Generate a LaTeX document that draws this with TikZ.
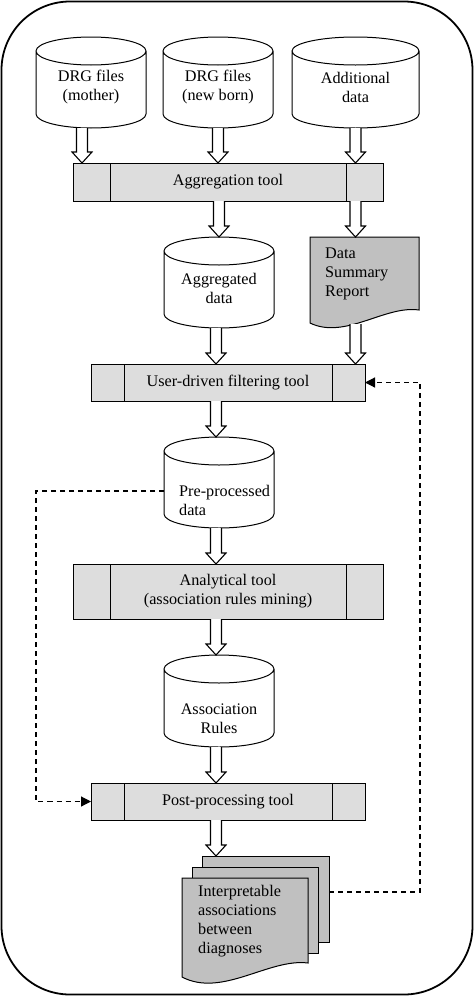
\documentclass[tikz,border=0pt]{standalone}
\usepackage{fontspec}
\setmainfont{Liberation Serif}
\usetikzlibrary{calc,arrows.meta}
\definecolor{barfill}{RGB}{221,221,221}
\definecolor{docfill}{RGB}{192,192,192}
\tikzset{
 lbl/.style={font=\fontsize{16.2}{19}\selectfont, inner sep=0pt, align=center},
 lbll/.style={font=\fontsize{16.2}{19}\selectfont, inner sep=0pt, align=left, anchor=west},
 box/.style={draw=black, line width=1pt, fill=barfill, inner sep=0pt, outer sep=0pt, font=\fontsize{16.2}{19}\selectfont, align=center},
 area/.style={inner sep=0pt, outer sep=0pt},
 cylline/.style={draw=black, line width=1pt, fill=white},
 docline/.style={draw=black, line width=1pt, fill=docfill},
 harrow/.style={draw=black, fill=white, line width=1.1pt, line join=miter,
   to path={let \p1=(\tikztostart), \p2=(\tikztotarget) in
     (\x1-5.5pt,\y1) -- (\x1-5.5pt,\y2+11pt) -- (\x1-10pt,\y2+11pt) -- (\x1,\y2)
     -- (\x1+10pt,\y2+11pt) -- (\x1+5.5pt,\y2+11pt) -- (\x1+5.5pt,\y1)}},
 fb/.style={draw=black, line width=1.2pt, dash pattern=on 5pt off 4pt, -{Triangle[length=10pt,width=10pt]}},
 frame/.style={draw=black, line width=1.8pt}
}
\newcommand\drawcyl[2]{%
 \draw[cylline] ([yshift=-14pt]#1.north west) -- ([yshift=14pt]#1.south west)
   arc[start angle=180,end angle=360,x radius=#2pt,y radius=14pt]
   -- ([yshift=-14pt]#1.north east)
   arc[start angle=0,end angle=180,x radius=#2pt,y radius=14pt]
   arc[start angle=180,end angle=360,x radius=#2pt,y radius=14pt];}
\newcommand\barlines[2]{%
 \draw[line width=1pt] ([xshift=#2pt]#1.north west) -- ([xshift=#2pt]#1.south west);
 \draw[line width=1pt] ([xshift=-#2pt]#1.north east) -- ([xshift=-#2pt]#1.south east);}
\begin{document}
\begin{tikzpicture}[x=1pt,y=1pt]
\useasboundingbox (0,0) rectangle (474,-996);
% outer frame
\draw[frame] (70,-1.5) -- (404,-1.5) arc[start angle=90,end angle=0,radius=68.5pt]
  -- (472.5,-926) arc[start angle=0,end angle=-90,radius=68.5pt]
  -- (70,-994.5) arc[start angle=270,end angle=180,radius=68.5pt]
  -- (1.5,-70) arc[start angle=180,end angle=90,radius=68.5pt] -- cycle;

% source cylinders
\node[area, minimum width=110pt, minimum height=91pt] (c1) at (91,-82.5) {};
\node[area, minimum width=110pt, minimum height=91pt] (c2) at (218,-82.5) {};
\node[area, minimum width=127pt, minimum height=91pt] (c3) at (355.5,-82.5) {};
\drawcyl{c1}{55}
\drawcyl{c2}{55}
\drawcyl{c3}{63.5}
\node[lbl] (c1t) at (91,-87.5) {DRG files\\(mother)};
\node[lbl] (c2t) at (218,-87.5) {DRG files\\(new born)};
\node[lbl] (c3t) at (355.5,-87.5) {Additional\\data};

% aggregation tool
\node[box, minimum width=310pt, minimum height=38pt] (agg) at (228,-182) {Aggregation tool};
\barlines{agg}{37}

\draw[harrow] ([xshift=-9pt]c1.south) to (agg.north);
\draw[harrow] (c2.south) to (agg.north);
\draw[harrow] (c3.south) to (agg.north);

% aggregated data
\node[area, minimum width=110pt, minimum height=91pt] (agd) at (219,-282.5) {};
\drawcyl{agd}{55}
\node[lbl] (agdt) at (219,-288.5) {Aggregated\\data};

% data summary report
\node[area, minimum width=109pt, minimum height=91pt] (rep) at (364.5,-282.5) {};
\draw[docline] (310,-237) -- (419,-237) -- (419,-310)
  .. controls (385,-305) and (345,-340) .. (310,-323) -- cycle;
\node[lbll] (rept) at (325,-273.5) {Data\\Summary\\Report};

\draw[harrow] (agd.north |- agg.south) to (agd.north);
\draw[harrow] (c3.south |- agg.south) to (rep.north);

% filtering tool
\node[box, minimum width=274pt, minimum height=37pt] (filt) at (228,-382.5) {User-driven filtering tool};
\barlines{filt}{33}
\draw[harrow] ([xshift=-3pt]agd.south) to (filt.north);
\draw[harrow] ([yshift=4pt]c3.south |- rep.south) to (filt.north);

% pre-processed data
\node[area, minimum width=110pt, minimum height=91pt] (pp) at (219,-482.5) {};
\drawcyl{pp}{55}
\node[lbll] (ppt) at (179,-500.5) {Pre-processed\\data};
\draw[harrow] ([xshift=-3pt]agd.south |- filt.south) to (pp.north);

% analytical tool
\node[box, minimum width=310pt, minimum height=55pt] (ana) at (228,-591.5) {Analytical tool\\(association rules mining)};
\barlines{ana}{37}
\draw[harrow] ([xshift=-3pt]pp.south) to (ana.north);

% association rules
\node[area, minimum width=110pt, minimum height=92pt] (ar) at (219,-701) {};
\drawcyl{ar}{55}
\node[lbl] (art) at (219,-718.5) {Association\\Rules};
\draw[harrow] ([xshift=-3pt]ar.north |- ana.south) to (ar.north);

% post-processing tool
\node[box, minimum width=274pt, minimum height=37pt] (post) at (228,-801.5) {Post-processing tool};
\barlines{post}{33}
\draw[harrow] ([xshift=-3pt]ar.south) to (post.north);

% interpretable associations (multi-document)
\node[area, minimum width=127pt, minimum height=86pt] (back) at (265.5,-899) {};
\node[area, minimum width=126pt, minimum height=86pt] (mid) at (255,-910) {};
\node[area, minimum width=126pt, minimum height=106pt] (front) at (245,-931) {};
\draw[docline] (202,-856) rectangle (329,-942);
\draw[docline] (192,-867) rectangle (318,-953);
\draw[docline] (182,-878) -- (308,-878) -- (308,-963)
  .. controls (269,-958) and (222,-998) .. (182,-977) -- cycle;
\node[lbll] (frontt) at (198,-921) {Interpretable\\associations\\between\\diagnoses};
\draw[harrow] ([xshift=-3pt]ar.south |- post.south) to (back.north);

% feedback loops
\coordinate (lc) at (36,-491);
\coordinate (rc) at (420,-892);
\draw[fb] ([yshift=-8.5pt]pp.west) -- (lc) |- (post.west);
\draw[fb] ([yshift=7pt]back.east) -- (rc) |- (filt.east);
\end{tikzpicture}
\end{document}
